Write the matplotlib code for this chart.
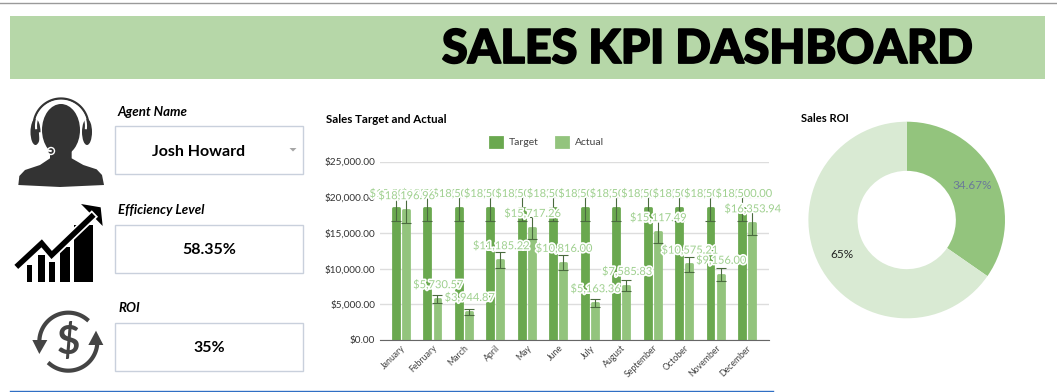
import numpy as np
import matplotlib
matplotlib.use("Agg")
import matplotlib.pyplot as plt
import matplotlib.patheffects as pe
from matplotlib.patches import Rectangle, Polygon, Ellipse, Circle

plt.rcParams['font.family'] = ['Lato', 'DejaVu Sans']

months = ["January", "February", "March", "April", "May", "June", "July",
          "August", "September", "October", "November", "December"]
target = [18500.00] * 12
actual = [18196.96, 5730.57, 3944.87, 11185.22, 15717.26, 10816.00,
          5163.36, 7585.83, 15117.49, 10575.21, 9156.00, 16353.94]
err_frac = 0.10  # the chart uses 10% error bars
y_ticks = [0, 5000, 10000, 15000, 20000, 25000]
roi_values = [34.67, 65.33]
roi_labels = ["34.67%", "65%"]
agent_name = "Josh Howard"
efficiency = "58.35%"
roi_text = "35%"

GREEN_D = "#6aa84f"
GREEN_M = "#93c47d"
GREEN_L = "#d9ead3"
BAND = "#b6d7a8"
LABEL = "#9fd08f"
W, H = 1057, 392

fig = plt.figure(figsize=(W / 100, H / 100), dpi=100, facecolor="white")

# background layer in pixel coords, for the panels and icons
bg = fig.add_axes([0, 0, 1, 1])
bg.set_xlim(0, W)
bg.set_ylim(H, 0)
bg.axis("off")

bg.plot([0, W], [2.5, 2.5], color="#9a9a9a", lw=1)
bg.plot([10, 773], [391.3, 391.3], color="#2f6fc4", lw=1)
bg.add_patch(Rectangle((10, 16), 1035, 63, fc=BAND, ec="none"))
bg.text(707, 49, "SALES KPI DASHBOARD", fontsize=33.6, fontweight="black",
        ha="center", va="center", color="black",
        path_effects=[pe.withStroke(linewidth=1.3, foreground="black")])

# input boxes
for y0, name, value, cx in [(126, "Agent Name", agent_name, 199),
                            (224.5, "Efficiency Level", efficiency, 209),
                            (322.5, "ROI", roi_text, 209)]:
    bg.add_patch(Rectangle((114.5, y0), 188, 48, fc="white", ec="#c9d0dc", lw=1))
    bg.text(118, y0 - 14.5, name, fontsize=9.5, fontweight="bold", style="italic",
            ha="left", va="center", color="black")
    bg.text(cx, y0 + 25.5, value, fontsize=11.5, fontweight="bold",
            ha="center", va="center", color="black")
bg.add_patch(Polygon([(289.5, 148), (296.5, 148), (293, 151.5)], fc="#a6a6a6", ec="none"))


def zp(pts):
    return [(x / 3, 90 + y / 3) for x, y in pts]


def arc(cx, cy, r, a0, a1):
    t = np.radians(np.linspace(a0, a1, 60))
    return cx + r * np.cos(t), cy - r * np.sin(t)


# headset agent icon
DARK = "#333333"
bg.add_patch(Polygon(zp([(55, 285), (58, 258), (75, 240), (120, 225), (150, 205), (150, 170),
                         (215, 170), (215, 205), (250, 225), (290, 238), (306, 255), (312, 285),
                         (180, 291)]),
                     fc=DARK, ec="none"))
bg.add_patch(Ellipse((61, 130), 38, 52, fc=DARK, ec="none"))
x, y = arc(61, 126, 27.5, -5, 185)
bg.plot(x, y, color=DARK, lw=1.6)
x, y = arc(61, 126, 25, -5, 185)
bg.plot(x, y, color="white", lw=1.5)
bg.add_patch(Ellipse((35.5, 132), 10, 26, fc=DARK, ec="none"))
bg.add_patch(Ellipse((87, 132), 10, 26, fc=DARK, ec="none"))
mx, my = zip(*zp([(120, 130), (122, 160), (135, 180), (152, 183)]))
bg.plot(mx, my, color="white", lw=1.5)
bg.add_patch(Circle((51, 151), 3.5, fc=DARK, ec="white", lw=1))

# growth chart icon
for x0, x1, top in [(80, 97, 525), (113, 135, 495), (148, 165, 515), (180, 210, 470), (222, 278, 405)]:
    (a, b), (c, d) = zp([(x0, top), (x1, 575)])
    bg.add_patch(Rectangle((a, b), c - a, d - b, fc="black", ec="none"))
lx, ly = zip(*zp([(55, 525), (125, 460), (155, 495), (275, 380)]))
bg.plot(lx, ly, color="white", lw=6.5, solid_joinstyle="miter")
bg.plot(lx, ly, color="black", lw=4, solid_joinstyle="miter")
bg.add_patch(Polygon(zp([(243, 342), (302, 352), (308, 408)]), fc="black", ec="none"))

# money cycle icon
GRAY = "#444444"
cx, cy = 205 / 3, 90 + 755 / 3
x, y = arc(cx, cy, 29, 50, 178)
bg.plot(x, y, color=GRAY, lw=3)
x, y = arc(cx, cy, 29, 230, 358)
bg.plot(x, y, color=GRAY, lw=3)
bg.add_patch(Polygon(zp([(97, 750), (142, 750), (118, 792)]), fc=GRAY, ec="none"))
bg.add_patch(Polygon(zp([(265, 765), (310, 765), (288, 722)]), fc=GRAY, ec="none"))
bg.text(cx, cy, "$", fontsize=29, fontweight="bold", color=GRAY, ha="center", va="center")

# bar chart
ax = fig.add_axes([380 / W, (H - 340) / H, 389 / W, 178.5 / H], facecolor="none")
x = np.arange(len(months))
off = 0.16
bw = 0.19
err_style = dict(ecolor="#4a6b3e", elinewidth=0.8, capsize=3.6, capthick=0.8)
ax.bar(x - off, target, bw, color=GREEN_D, edgecolor=GREEN_D, lw=2, joinstyle="round",
       label="Target", zorder=2)
ax.bar(x + off, actual, bw, color=GREEN_M, edgecolor=GREEN_M, lw=2, joinstyle="round",
       label="Actual", zorder=2)
ax.errorbar(x - off, target, yerr=[v * err_frac for v in target], fmt="none", zorder=3, **err_style)
ax.errorbar(x + off, actual, yerr=[v * err_frac for v in actual], fmt="none", zorder=3, **err_style)
ax.set_xlim(-0.668, 11.7)
ax.set_ylim(0, 25000)
ax.set_yticks(y_ticks)
ax.set_yticklabels([f"${v:,.2f}" for v in y_ticks], fontsize=7.2, color="#333333")
ax.set_xticks(x)
ax.set_xticklabels(months, fontsize=6.3, color="#444444", rotation=45, ha="right",
                   rotation_mode="anchor")
ax.tick_params(axis="y", length=0, pad=3.5)
ax.tick_params(axis="x", length=0, pad=2.5)
ax.grid(axis="y", color="#dddddd", lw=1)
ax.set_axisbelow(True)
for s in ["top", "right", "left"]:
    ax.spines[s].set_visible(False)
ax.spines["bottom"].set_color("#666666")

halo = [pe.withStroke(linewidth=2.4, foreground="white")]
for xs, vals, dx in [(x - off, target, 1.5), (x + off, actual, 0.7)]:
    for xi, v in zip(xs, vals):
        ax.annotate(f"${v:,.2f}", (xi, v), xytext=(dx, 10.4), textcoords="offset points",
                    ha="center", va="center", fontsize=8, color=LABEL,
                    path_effects=halo, zorder=5)

ax.legend(loc="center", bbox_to_anchor=(547 / W, (H - 142) / H), bbox_transform=fig.transFigure,
          ncol=2, frameon=False, fontsize=7.5, labelcolor="#444444", handlelength=1.15, handleheight=1.15,
          columnspacing=1.6, handletextpad=0.7)
bg.text(326, 119, "Sales Target and Actual", fontsize=8.3, fontweight="bold", ha="left", va="center")

# donut
R = 98.3
pie = fig.add_axes([(906.7 - R) / W, (H - 220 - R) / H, 2 * R / W, 2 * R / H])
pie.pie(roi_values, colors=[GREEN_M, GREEN_L], startangle=90, counterclock=False,
        radius=1, wedgeprops=dict(width=0.5))
pie.set_xlim(-1, 1)
pie.set_ylim(-1, 1)
pie.text(0.67, 0.346, roi_labels[0], fontsize=8.5, color="#6b7a99", ha="center", va="center")
pie.text(-0.66, -0.346, roi_labels[1], fontsize=8.5, color="#222222", ha="center", va="center")
bg.text(801, 118, "Sales ROI", fontsize=8, fontweight="bold", ha="left", va="center")

fig.savefig("out.png", dpi=100)
